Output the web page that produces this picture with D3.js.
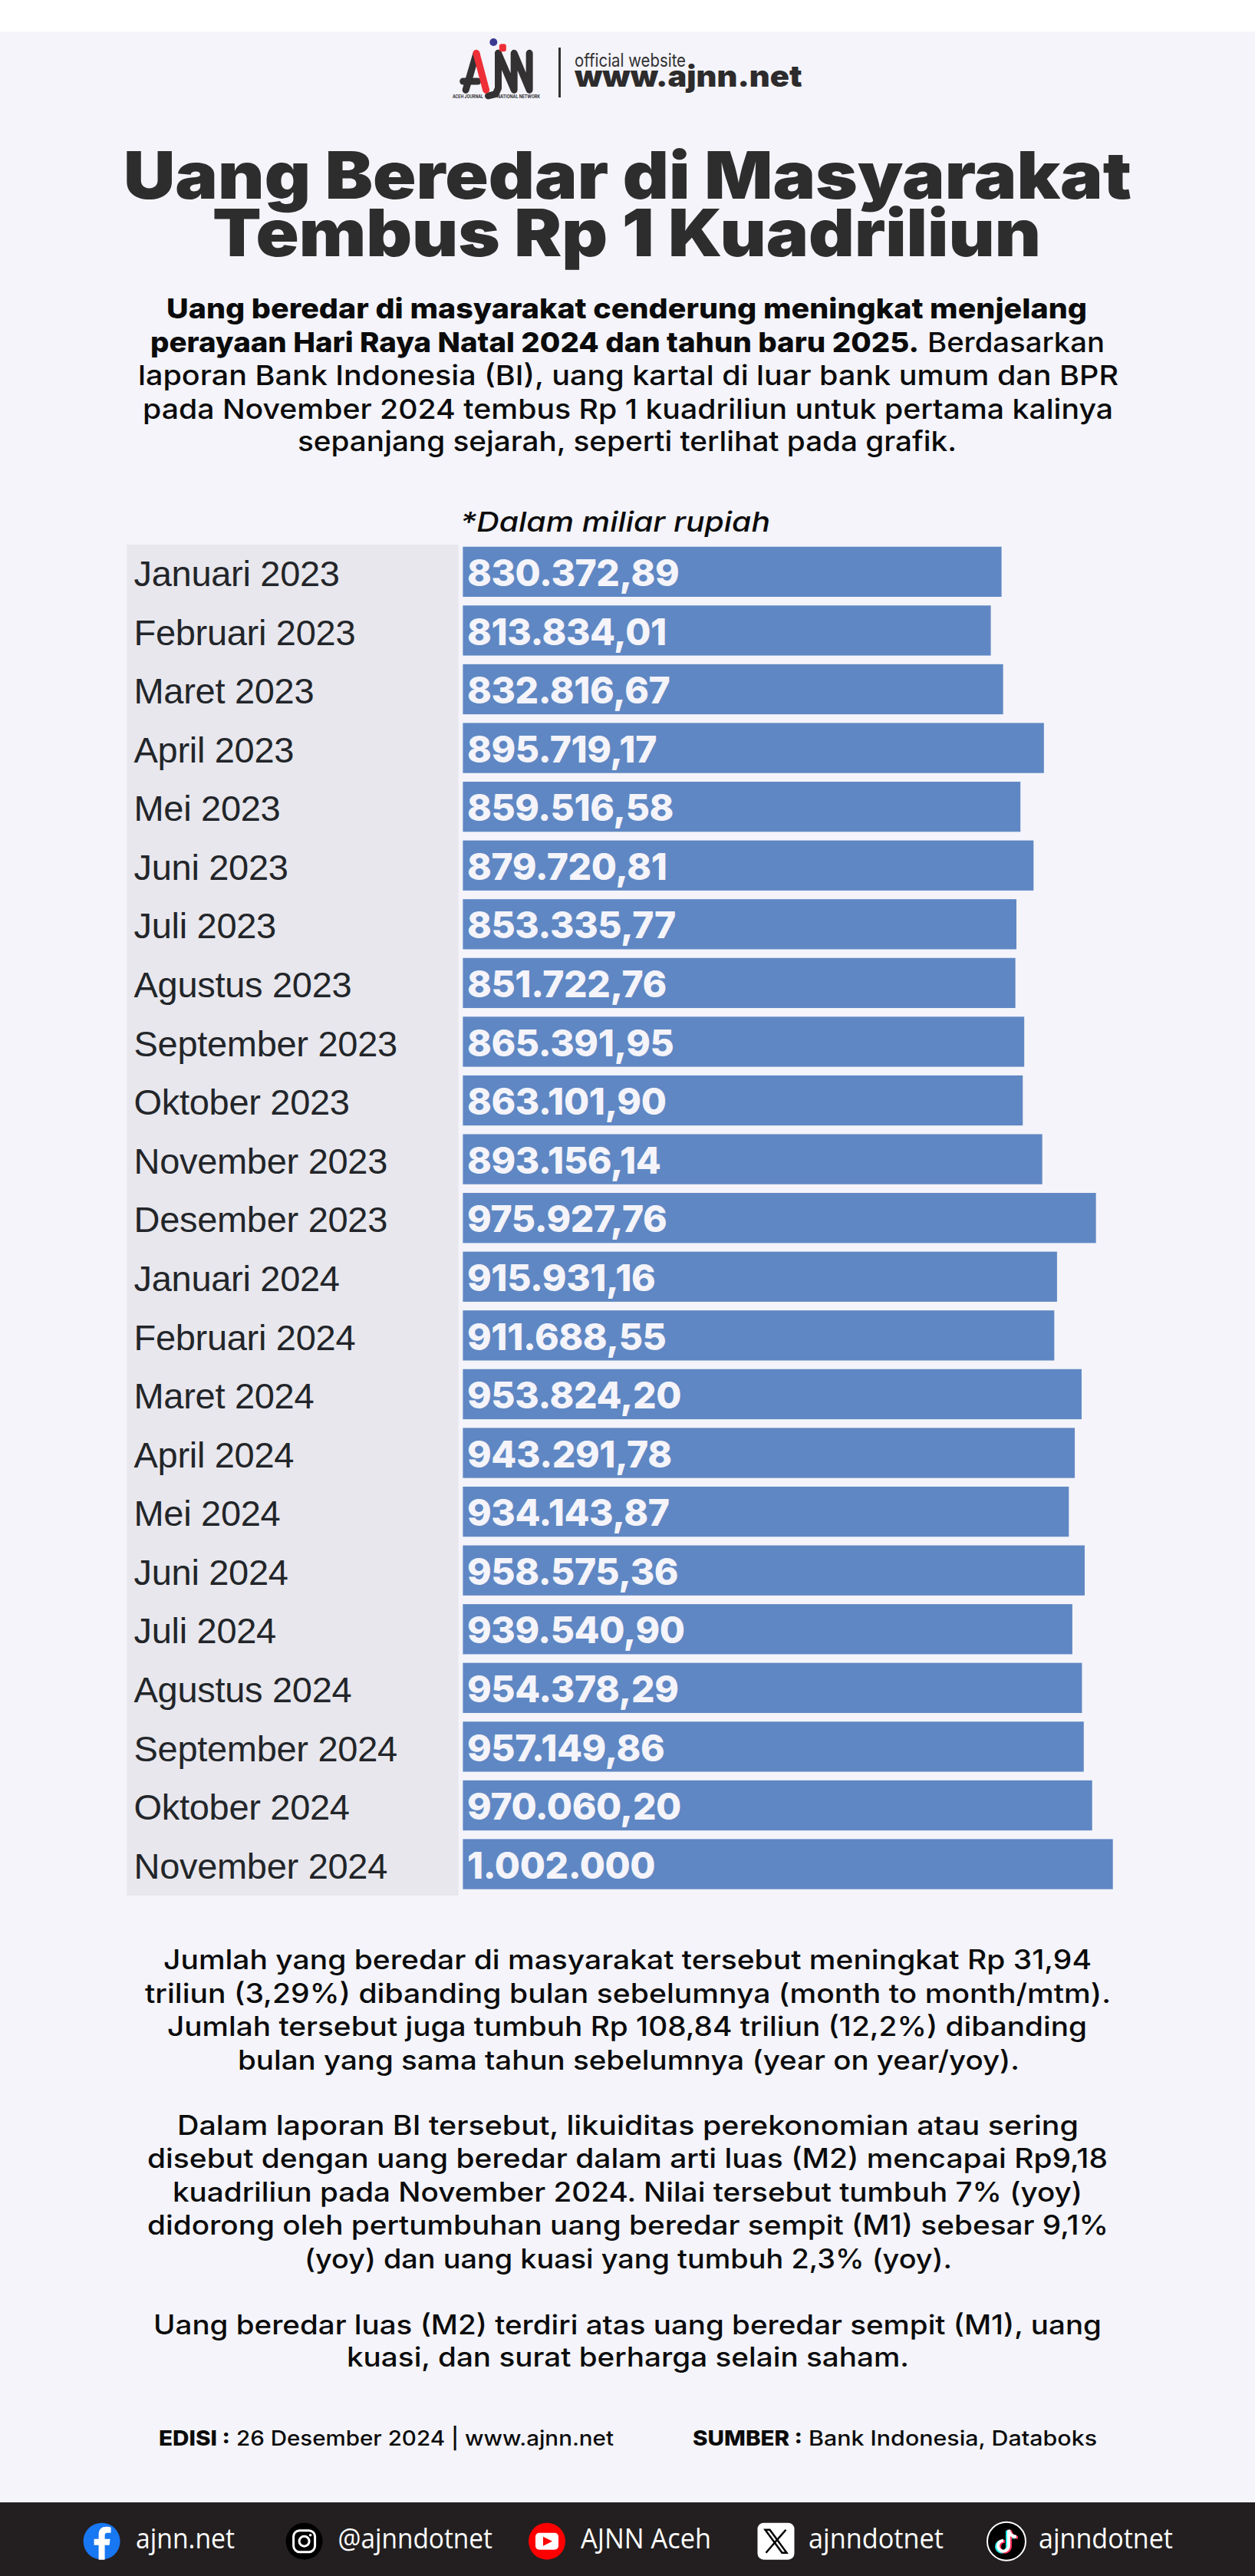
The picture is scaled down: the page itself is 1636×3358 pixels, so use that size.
<!DOCTYPE html>
<html><head><meta charset="utf-8">
<script src="https://cdn.jsdelivr.net/npm/d3@7/dist/d3.min.js"></script>
<style>html,body{margin:0;padding:0;background:#fff}svg{display:block}</style>
</head><body><svg id="c"></svg>
<script>
const months = ["Januari 2023","Februari 2023","Maret 2023","April 2023","Mei 2023","Juni 2023","Juli 2023","Agustus 2023","September 2023","Oktober 2023","November 2023","Desember 2023","Januari 2024","Februari 2024","Maret 2024","April 2024","Mei 2024","Juni 2024","Juli 2024","Agustus 2024","September 2024","Oktober 2024","November 2024"];
const values = [830372.89,813834.01,832816.67,895719.17,859516.58,879720.81,853335.77,851722.76,865391.95,863101.90,893156.14,975927.76,915931.16,911688.55,953824.20,943291.78,934143.87,958575.36,939540.90,954378.29,957149.86,970060.20,1002000];
const valueLabels = ["830.372,89","813.834,01","832.816,67","895.719,17","859.516,58","879.720,81","853.335,77","851.722,76","865.391,95","863.101,90","893.156,14","975.927,76","915.931,16","911.688,55","953.824,20","943.291,78","934.143,87","958.575,36","939.540,90","954.378,29","957.149,86","970.060,20","1.002.000"];
const titleLines = ["Uang Beredar di Masyarakat","Tembus Rp 1 Kuadriliun"];
const introLines = ["Uang beredar di masyarakat cenderung meningkat menjelang","perayaan Hari Raya Natal 2024 dan tahun baru 2025.","Berdasarkan","laporan Bank Indonesia (BI), uang kartal di luar bank umum dan BPR","pada November 2024 tembus Rp 1 kuadriliun untuk pertama kalinya","sepanjang sejarah, seperti terlihat pada grafik."];
const bodyLines = ["Jumlah yang beredar di masyarakat tersebut meningkat Rp 31,94","triliun (3,29%) dibanding bulan sebelumnya (month to month/mtm).","Jumlah tersebut juga tumbuh Rp 108,84 triliun (12,2%) dibanding","bulan yang sama tahun sebelumnya (year on year/yoy).","Dalam laporan BI tersebut, likuiditas perekonomian atau sering","disebut dengan uang beredar dalam arti luas (M2) mencapai Rp9,18","kuadriliun pada November 2024. Nilai tersebut tumbuh 7% (yoy)","didorong oleh pertumbuhan uang beredar sempit (M1) sebesar 9,1%","(yoy) dan uang kuasi yang tumbuh 2,3% (yoy).","Uang beredar luas (M2) terdiri atas uang beredar sempit (M1), uang","kuasi, dan surat berharga selain saham."];
const unitNote = "*Dalam miliar rupiah";
const socialNames = ["ajnn.net","@ajnndotnet","AJNN Aceh","ajnndotnet","ajnndotnet"];

// layout (separate from the data)
const W = 1636, H = 3358;
const titleBoxes = [[161,1475,259],[277,1357,334]];
const introBoxes = [[217,1417,415,800],[196,1198,459,800],[1209,1440,459,500],[180,1458,502,500],[186,1451,545.5,500],[388,1247,588,500]];
const bodyBoxes = [[213,1423,2567],[189,1448,2610.7],[218,1417,2654],[310,1329,2697.7],[231,1406,2782.7],[192,1444,2826],[225,1411,2869.7],[192,1445,2913],[397,1241,2956.7],[200,1436,3042.5],[452,1185,3085]];
const socialBoxes = [[177,306],[440.5,642],[757,927],[1054,1230],[1354,1529]];
const iconX = [132.6,396.6,713,1011.5,1312];
const sans = "Inter, 'Noto Sans', sans-serif";
const BG = "#f4f4fa", BAR = "#5f87c3", PANEL = "#e8e7ed", DARK = "#231f20";

const svg = d3.select("#c").attr("width",W).attr("height",H).attr("viewBox",[0,0,W,H]);
svg.append("rect").attr("width",W).attr("height",H).attr("fill","#fff");
svg.append("rect").attr("y",41.5).attr("width",W).attr("height",H-41.5).attr("fill",BG);
svg.append("rect").attr("y",3262).attr("width",W).attr("height",H-3262).attr("fill",DARK);

function fit(g,str,x0,x1,y,size,weight,fill,family,extra){
  const t = g.append("text").attr("x",x0).attr("y",y).attr("font-family",family||sans)
    .attr("font-size",size).attr("font-weight",weight).attr("fill",fill)
    .attr("textLength",x1-x0).attr("lengthAdjust","spacingAndGlyphs").text(str);
  if(extra) t.attr("font-style",extra);
  return t;
}

// logo
const lg = svg.append("g");
const zx = v => 540 + v/2.904, zy = v => 30 + v/3;
const seg = (pts,color,w) => lg.append("path")
  .attr("d",d3.line().x(p=>zx(p[0])).y(p=>zy(p[1])).curve(d3.curveLinear)(pts))
  .attr("fill","none").attr("stroke",color).attr("stroke-width",w).attr("stroke-linecap","round").attr("stroke-linejoin","round");
seg([[235,120],[195,262]],"#333132",9);
seg([[185,228],[240,228]],"#333132",9);
seg([[318,118],[318,255],[308,278],[280,285]],"#333132",9);
seg([[318,118],[378,262],[378,118],[436,262],[436,118]],"#333132",9);
seg([[235,118],[272,262]],"#ee2f37",9);
lg.append("circle").attr("cx",zx(300)).attr("cy",zy(75)).attr("r",5).attr("fill","#3a3a92");
lg.append("rect").attr("x",zx(335)-4.5).attr("y",zy(97)-5).attr("width",9).attr("height",10).attr("rx",3).attr("fill","#ee2f37");
fit(lg,"ACEH JOURNAL",590,630,127.7,6,700,"#333132");
fit(lg,"NATIONAL NETWORK",648,704,127.7,6,700,"#333132");
lg.append("rect").attr("x",728).attr("y",62).attr("width",3).attr("height",65).attr("fill","#333132");
fit(lg,"official website",749,894,87,24,400,"#333132");
fit(lg,"www.ajnn.net",749,1045.5,113,38,900,"#2d2b2c");

// title + intro
const tg = svg.append("g");
titleLines.forEach((s,i)=>fit(tg,s,titleBoxes[i][0],titleBoxes[i][1],titleBoxes[i][2],85,900,"#2d2d2d"));
introLines.forEach((s,i)=>{const b=introBoxes[i];fit(tg,s,b[0],b[1],b[2],36,b[3],"#0b0b0b");});
fit(tg,unitNote,600,1004,692.7,36,500,"#0b0b0b",sans,"italic");

// chart
const x = d3.scaleLinear().domain([0,1002000]).range([603.4,1450.7]);
const y = d3.scaleBand().domain(months).range([712.7,2462.7]).paddingInner(0.1475).paddingOuter(0);
const chart = svg.append("g");
chart.append("rect").attr("x",165.4).attr("y",710).attr("width",432.2).attr("height",1761).attr("fill",PANEL);
chart.selectAll("rect.bar").data(values).join("rect").attr("class","bar")
  .attr("x",x(0)).attr("y",(d,i)=>y(months[i])).attr("width",d=>x(d)-x(0)).attr("height",y.bandwidth()).attr("fill",BAR);
chart.selectAll("text.m").data(months).join("text").attr("class","m")
  .attr("x",174.5).attr("y",d=>y(d)+51.3).attr("font-family","'Liberation Sans',Arial,sans-serif")
  .attr("font-size",47).attr("letter-spacing",-0.3).attr("fill","#222529").text(d=>d);
chart.selectAll("text.v").data(valueLabels).join("text").attr("class","v")
  .attr("x",609).attr("y",(d,i)=>y(months[i])+51.3).attr("font-family",sans)
  .attr("font-size",48).attr("font-weight",800).attr("letter-spacing",-0.4).attr("fill",BG).text(d=>d);

// body
const bg = svg.append("g");
bodyLines.forEach((s,i)=>{const b=bodyBoxes[i];fit(bg,s,b[0],b[1],b[2],35,500,"#0b0b0b");});

// footer credits
fit(bg,"EDISI :",207,300,3188,27,800,"#0b0b0b");
fit(bg,"26 Desember 2024 | www.ajnn.net",308,800,3188,27,500,"#0b0b0b");
fit(bg,"SUMBER :",903,1046,3188,27,800,"#0b0b0b");
fit(bg,"Bank Indonesia, Databoks",1054,1430,3188,27,500,"#0b0b0b");

// social bar
const sg = svg.append("g");
const cy = 3312.7;
socialNames.forEach((s,i)=>fit(sg,s,socialBoxes[i][0],socialBoxes[i][1],3321.7,36,400,"#fff","'Open Sans',sans-serif"));
const ic = i => sg.append("g").attr("transform",`translate(${iconX[i]},${cy})`);
let g0 = ic(0); g0.append("circle").attr("r",24).attr("fill","#1877f2");
g0.append("path").attr("d","M-4 24V5H-10V-3H-4V-9C-4-16 0-19 6-19C8-19 11-19 12-18V-11H8C5-11 4-10 4-7V-3H11L10 5H4V24Z").attr("fill","#fff");
let g1 = ic(1); g1.append("circle").attr("r",24).attr("fill","#000");
g1.append("rect").attr("x",-14).attr("y",-14).attr("width",28).attr("height",28).attr("rx",8).attr("fill","none").attr("stroke","#fff").attr("stroke-width",3);
g1.append("circle").attr("r",6.5).attr("fill","none").attr("stroke","#fff").attr("stroke-width",3);
g1.append("circle").attr("cx",8).attr("cy",-8).attr("r",1.8).attr("fill","#fff");
let g2 = ic(2); g2.append("circle").attr("r",24).attr("fill","#f00");
g2.append("rect").attr("x",-15).attr("y",-11).attr("width",30).attr("height",22).attr("rx",5).attr("fill","#fff");
g2.append("path").attr("d","M-5 -6L7 0L-5 6Z").attr("fill","#f00");
let g3 = ic(3); g3.append("rect").attr("x",-24).attr("y",-24).attr("width",48).attr("height",48).attr("rx",8).attr("fill","#fff");
g3.append("path").attr("d","M-14 -15L8 15H14L-8 -15Z").attr("fill","none").attr("stroke","#000").attr("stroke-width",2.5);
g3.append("path").attr("d","M13 -15L-13 15").attr("stroke","#000").attr("stroke-width",2.5);
let g4 = ic(4); g4.append("circle").attr("r",25).attr("fill","#000").attr("stroke","#fff").attr("stroke-width",2);
const tik = "M3 -15V6A7 7 0 1 1 -4 -1M3 -15C4 -9 8 -6 13 -6";
g4.append("path").attr("d",tik).attr("transform","translate(-2,1)").attr("fill","none").attr("stroke","#25f4ee").attr("stroke-width",4);
g4.append("path").attr("d",tik).attr("transform","translate(2,1)").attr("fill","none").attr("stroke","#fe2c55").attr("stroke-width",4);
g4.append("path").attr("d",tik).attr("fill","none").attr("stroke","#fff").attr("stroke-width",4);
</script></body></html>
